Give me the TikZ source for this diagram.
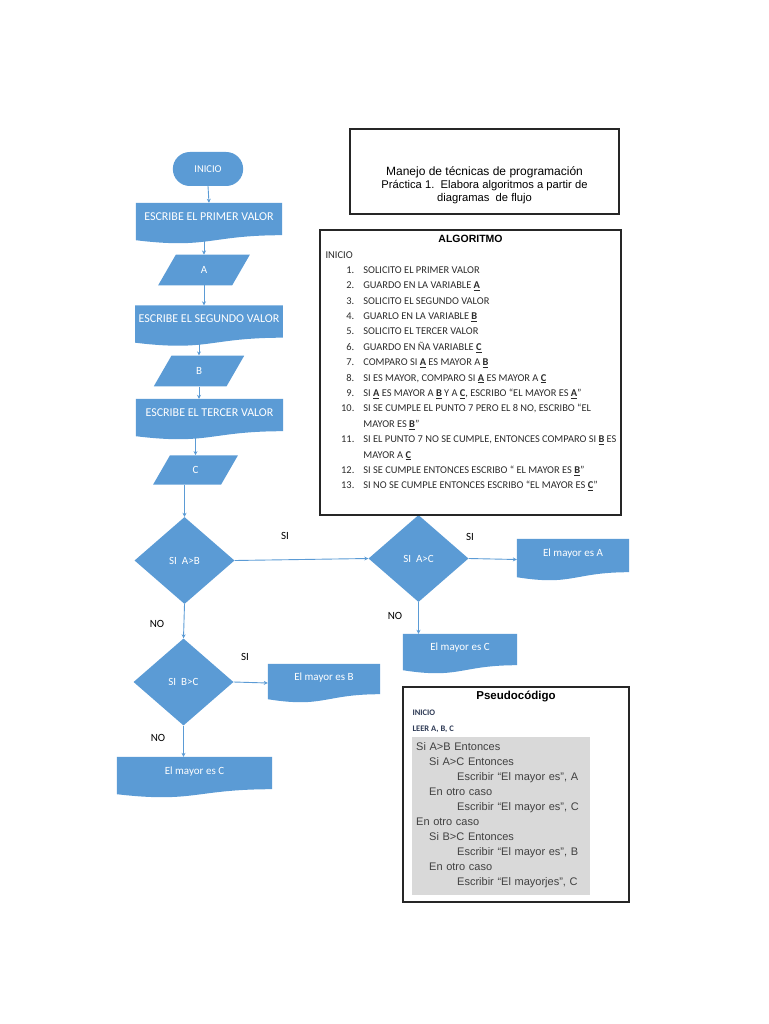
\documentclass[tikz,border=0pt]{standalone}
\usepackage{fontspec}
\setmainfont{Carlito}
\newfontfamily\arial{Liberation Sans}
\usetikzlibrary{shapes,arrows.meta,positioning,calc,backgrounds}
\definecolor{flujo}{HTML}{5B9BD5}
\definecolor{textogris}{HTML}{2B2B2B}
\definecolor{psgris}{HTML}{404040}
\definecolor{fondogris}{HTML}{D9D9D9}
\definecolor{azuloscuro}{HTML}{2E3A55}

% letra subrayada de las variables
\newcommand{\resalta}[1]{\underline{\textbf{#1}}}
% fondo con borde ondulado para los documentos
\newcommand{\docfill}[1]{%
  \begin{scope}[on background layer]
    \fill[flujo] (#1.north west) -- (#1.north east) -- ($(#1.south east)+(0,-8)$)
      .. controls ($(#1.south)+(0,-8)$) and ($(#1.south)+(0,6)$) .. ($(#1.south west)+(0,-3)$) -- cycle;
  \end{scope}}

\begin{document}
\begin{tikzpicture}[x=1pt,y=-1pt]
      \tikzstyle{terminal}=[rounded rectangle,fill=flujo,text=white,minimum width=77pt,minimum height=34pt,font=\fontsize{10.5}{12}\selectfont]
      \tikzstyle{docbox}=[rectangle,text=white,minimum height=40pt,text depth=13pt,font=\fontsize{11}{12}\selectfont]
      \tikzstyle{escribe}=[docbox,font=\fontsize{12}{13}\selectfont]
      \tikzstyle{dato}=[trapezium,trapezium left angle=60,trapezium right angle=120,fill=flujo,text=white,minimum height=27pt,inner ysep=0pt,font=\fontsize{11}{12}\selectfont]
      \tikzstyle{decision}=[diamond,fill=flujo,text=white,minimum width=100pt,minimum height=87pt,inner sep=0pt,font=\fontsize{11}{12}\selectfont]
      \tikzstyle{flecha}=[draw=flujo,line width=0.9pt,-{Stealth[length=4pt,width=4pt]}]
      \tikzstyle{desdedoc}=[shorten <=-3pt]
      \tikzstyle{etiqueta}=[font=\fontsize{11}{12}\selectfont]
      \tikzstyle{caja}=[draw=black!85,line width=1.3pt]
      \useasboundingbox (0,0) rectangle (768,1024);

      % diagrama de flujo
      \node[terminal] (inicio) at (208,169) {INICIO};
      \node[escribe,minimum width=146pt] (esc1) at (209,223) {ESCRIBE EL PRIMER VALOR};
      \node[dato,minimum width=92pt] (datoA) at (204,270) {A};
      \node[escribe,minimum width=146pt] (esc2) at (209,325.5) {ESCRIBE EL SEGUNDO VALOR};
      \node[dato,minimum width=91pt] (datoB) at (199,371) {B};
      \node[escribe,minimum width=147pt] (esc3) at (209.5,419) {ESCRIBE EL TERCER VALOR};
      \node[dato,minimum width=85pt,minimum height=26pt] (datoC) at (195.5,470) {C};
      \node[decision] (ab) at (184.5,560.5) {SI\ \ A>B};
      \node[decision] (ac) at (418.5,558.5) {SI\ \ A>C};
      \node[decision] (bc) at (183.5,682) {SI\ \ B>C};
      \node[docbox,minimum width=112pt,minimum height=41pt] (mayorA) at (573,559.5) {El mayor es A};
      \node[docbox,minimum width=114pt,minimum height=39pt] (mayorC1) at (460,653.5) {El mayor es C};
      \node[docbox,minimum width=112pt,minimum height=38pt] (mayorB) at (324,683) {El mayor es B};
      \node[docbox,minimum width=155pt,minimum height=40pt] (mayorC2) at (194.5,777) {El mayor es C};
      \foreach \d in {esc1,esc2,esc3,mayorA,mayorC1,mayorB,mayorC2} {\docfill{\d}}

      \draw[flecha] (inicio.south) -- (esc1.north);
      \draw[flecha,desdedoc] (datoA.north |- esc1.south) -- (datoA.north);
      \draw[flecha] (datoA.south) -- (datoA.south |- esc2.north);
      \draw[flecha,desdedoc] (datoB.north |- esc2.south) -- (datoB.north);
      \draw[flecha] (datoB.south) -- (datoB.south |- esc3.north);
      \draw[flecha,desdedoc] (datoC.north |- esc3.south) -- (datoC.north);
      \draw[flecha] (ab.north |- datoC.south) -- (ab.north);
      \draw[flecha] (ab.east) -- (ac.west);
      \draw[flecha] (ab.south) -- (bc.north);
      \draw[flecha] (ac.east) -- (mayorA.west);
      \draw[flecha] (ac.south) -- (ac.south |- mayorC1.north);
      \draw[flecha] (bc.east) -- (mayorB.west);
      \draw[flecha] (bc.south) -- (bc.south |- mayorC2.north);

      \node[etiqueta] (si1) at (285,536) {SI};
      \node[etiqueta] (si2) at (470,537) {SI};
      \node[etiqueta] (no2) at (395,616) {NO};
      \node[etiqueta] (no1) at (157,624) {NO};
      \node[etiqueta] (si3) at (245,657) {SI};
      \node[etiqueta] (no3) at (158,738) {NO};

      % encabezado
      \node[caja,minimum width=269pt,minimum height=85pt] (titulo) at (484.5,171.5) {};
      \node[above=7pt of titulo.south,align=center,font=\arial\fontsize{11.2}{13}\selectfont] (titulotxt)
        {{\fontsize{12}{13}\selectfont Manejo de técnicas de programación}\\Práctica 1.\ \ Elabora algoritmos a partir de\\diagramas\ \ de flujo};

      % algoritmo
      \node[caja,minimum width=301pt,minimum height=285pt] (algoritmo) at (470.5,372.5) {};
      \node[below=2pt of algoritmo.north,font=\arial\bfseries\fontsize{10.5}{12}\selectfont] (algtitulo) {ALGORITMO};
      \node[anchor=west,text=textogris,font=\fontsize{10.5}{12}\selectfont] (alginicio) at (322,255) {INICIO};
      \node[anchor=north west,inner sep=0pt,text=textogris,font=\fontsize{10.4}{15.4}\selectfont] (pasos) at (341,262.4) {%
        \begin{tabular}{@{}r@{\hspace{9pt}}l@{}}
        1. & SOLICITO EL PRIMER VALOR\\
        2. & GUARDO EN LA VARIABLE \resalta{A}\\
        3. & SOLICITO EL SEGUNDO VALOR\\
        4. & GUARLO EN LA VARIABLE \resalta{B}\\
        5. & SOLICITO EL TERCER VALOR\\
        6. & GUARDO EN ÑA VARIABLE \resalta{C}\\
        7. & COMPARO SI \resalta{A} ES MAYOR A \resalta{B}\\
        8. & SI ES MAYOR, COMPARO SI \resalta{A} ES MAYOR A \resalta{C}\\
        9. & SI \resalta{A} ES MAYOR A \resalta{B} Y A \resalta{C}, ESCRIBO “EL MAYOR ES \resalta{A}”\\
        10. & SI SE CUMPLE EL PUNTO 7 PERO EL 8 NO, ESCRIBO “EL\\
            & MAYOR ES \resalta{B}”\\
        11. & SI EL PUNTO 7 NO SE CUMPLE, ENTONCES COMPARO SI \resalta{B} ES\\
            & MAYOR A \resalta{C}\\
        12. & SI SE CUMPLE ENTONCES ESCRIBO “ EL MAYOR ES \resalta{B}”\\
        13. & SI NO SE CUMPLE ENTONCES ESCRIBO “EL MAYOR ES \resalta{C}”
        \end{tabular}};

      % pseudocodigo
      \node[caja,minimum width=226pt,minimum height=215pt] (pseudo) at (516,794.5) {};
      \node[below=1pt of pseudo.north,font=\arial\bfseries\fontsize{11.5}{12}\selectfont] (pstitulo) {Pseudocódigo};
      \node[anchor=west,text=azuloscuro,font=\bfseries\fontsize{8.5}{10}\selectfont] (psinicio) at (409,713) {INICIO};
      \node[anchor=west,text=azuloscuro,font=\bfseries\fontsize{8.5}{10}\selectfont] (psleer) at (409,729) {LEER A, B, C};
      \node[anchor=north west,fill=fondogris,text=psgris,text width=170pt,inner xsep=4pt,inner ysep=5pt,align=left,font=\arial\fontsize{11}{15}\selectfont] (pscodigo) at (412,737) {%
        Si A>B Entonces\\
        \hspace*{13pt}Si A>C Entonces\\
        \hspace*{41pt}Escribir “El mayor es”, A\\
        \hspace*{13pt}En otro caso\\
        \hspace*{41pt}Escribir “El mayor es”, C\\
        En otro caso\\
        \hspace*{13pt}Si B>C Entonces\\
        \hspace*{41pt}Escribir “El mayor es”, B\\
        \hspace*{13pt}En otro caso\\
        \hspace*{41pt}Escribir “El mayorjes”, C\strut};
\end{tikzpicture}
\end{document}
